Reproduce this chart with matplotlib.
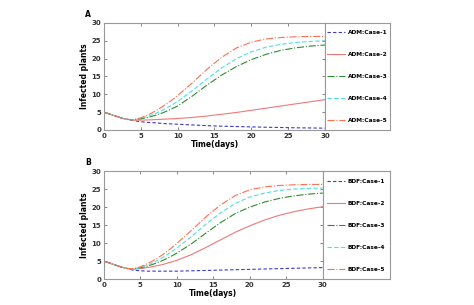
import numpy as np
import matplotlib
matplotlib.use("Agg")
import matplotlib.pyplot as plt

# ---------------------------------------------
# Datos
t = [0, 1, 2, 3, 4, 5, 6, 7, 8, 9, 10, 12, 14, 16, 18, 20, 22, 24, 26, 28, 30]

adm_case1 = [5.0, 4.3, 3.6, 3.0, 2.6, 2.3, 2.1, 2.0, 1.8, 1.7, 1.6, 1.4, 1.2, 1.05, 0.95, 0.85, 0.75, 0.68, 0.6, 0.55, 0.5]
adm_case2 = [5.0, 4.3, 3.6, 3.0, 2.75, 2.75, 2.8, 2.9, 3.0, 3.1, 3.2, 3.5, 3.9, 4.4, 4.9, 5.5, 6.1, 6.7, 7.3, 7.9, 8.5]
adm_case3 = [5.0, 4.3, 3.6, 3.0, 2.8, 3.1, 3.5, 4.1, 4.8, 5.7, 6.7, 9.5, 12.6, 15.4, 17.8, 19.7, 21.2, 22.3, 23.0, 23.5, 23.8]
adm_case4 = [5.0, 4.3, 3.6, 3.0, 2.8, 3.2, 3.8, 4.6, 5.6, 6.7, 8.0, 11.0, 14.3, 17.4, 20.0, 21.9, 23.2, 24.0, 24.5, 24.8, 25.0]
adm_case5 = [5.0, 4.3, 3.6, 3.0, 2.85, 3.4, 4.2, 5.3, 6.6, 8.0, 9.6, 13.2, 17.0, 20.4, 23.0, 24.6, 25.5, 25.9, 26.1, 26.2, 26.2]

bdf_case1 = [5.0, 4.3, 3.6, 3.0, 2.5, 2.3, 2.2, 2.2, 2.2, 2.2, 2.2, 2.3, 2.4, 2.5, 2.6, 2.7, 2.8, 2.9, 3.0, 3.1, 3.2]
bdf_case2 = [5.0, 4.3, 3.6, 3.0, 2.75, 2.9, 3.2, 3.6, 4.0, 4.6, 5.2, 6.8, 8.8, 10.9, 13.0, 14.8, 16.4, 17.7, 18.7, 19.5, 20.1]
bdf_case3 = [5.0, 4.3, 3.6, 3.0, 2.8, 3.1, 3.6, 4.3, 5.1, 6.1, 7.2, 9.8, 12.8, 15.7, 18.2, 20.0, 21.4, 22.4, 23.1, 23.6, 23.9]
bdf_case4 = [5.0, 4.3, 3.6, 3.0, 2.8, 3.2, 3.9, 4.8, 5.9, 7.2, 8.6, 11.8, 15.3, 18.4, 21.0, 22.8, 23.9, 24.6, 25.0, 25.2, 25.3]
bdf_case5 = [5.0, 4.3, 3.6, 3.0, 2.85, 3.4, 4.3, 5.4, 6.7, 8.2, 9.9, 13.5, 17.3, 20.6, 23.2, 24.8, 25.6, 26.0, 26.2, 26.3, 26.3]

case_names = ["Case-1", "Case-2", "Case-3", "Case-4", "Case-5"]
colores = ["#3a3ad0", "#f07878", "#2e8b2e", "#50e0e0", "#ff7050"]
estilos = [(0, (3, 2)), "-", "-.", (0, (4, 2)), "-."]

plt.rcParams["font.family"] = "DejaVu Sans"
plt.rcParams["font.weight"] = "bold"

fig = plt.figure(figsize=(4.74, 3.05), dpi=100)

paneles = [
    ("A", "ADM", [adm_case1, adm_case2, adm_case3, adm_case4, adm_case5], [0.219, 0.574, 0.467, 0.351]),
    ("B", "BDF", [bdf_case1, bdf_case2, bdf_case3, bdf_case4, bdf_case5], [0.219, 0.085, 0.462, 0.354]),
]

for letra, metodo, series, pos in paneles:
    ax = fig.add_axes(pos)
    lineas = []
    for serie, nombre, c, ls in zip(series, case_names, colores, estilos):
        l, = ax.plot(t, serie, color=c, linestyle=ls, linewidth=0.8,
                     label=f"{metodo}:{nombre}")
        lineas.append(l)
    ax.set_xlim(0, 30)
    ax.set_ylim(0, 30)
    ax.set_xticks([0, 5, 10, 15, 20, 25, 30])
    ax.set_yticks([0, 5, 10, 15, 20, 25, 30])
    ax.tick_params(direction="in", length=2, width=0.5, labelsize=5,
                   top=True, right=True, pad=2, colors="#555555", labelcolor="#333333")
    for s in ax.spines.values():
        s.set_color("#999999")
        s.set_linewidth(0.8)
    ax.set_xlabel("Time(days)", fontsize=5.5, fontweight="bold", labelpad=1)
    ax.set_ylabel("Infected plants", fontsize=5.5, fontweight="bold", labelpad=2)
    ax.text(-0.06, 1.04, letra, transform=ax.transAxes, fontsize=5.5,
            fontweight="bold", ha="right", va="bottom")

    # Caja de la leyenda pegada a la derecha
    x1 = pos[0] + pos[2]
    lax = fig.add_axes([x1, pos[1], 0.822 - x1, pos[3]])
    lax.set_xticks([])
    lax.set_yticks([])
    for s in lax.spines.values():
        s.set_color("#999999")
        s.set_linewidth(0.8)
    lax.legend(handles=lineas, loc="center", frameon=False, fontsize=4.2,
               handlelength=3.0, labelspacing=2.9, handletextpad=0.5,
               borderpad=0.2)

fig.savefig("out.png", dpi=100)
